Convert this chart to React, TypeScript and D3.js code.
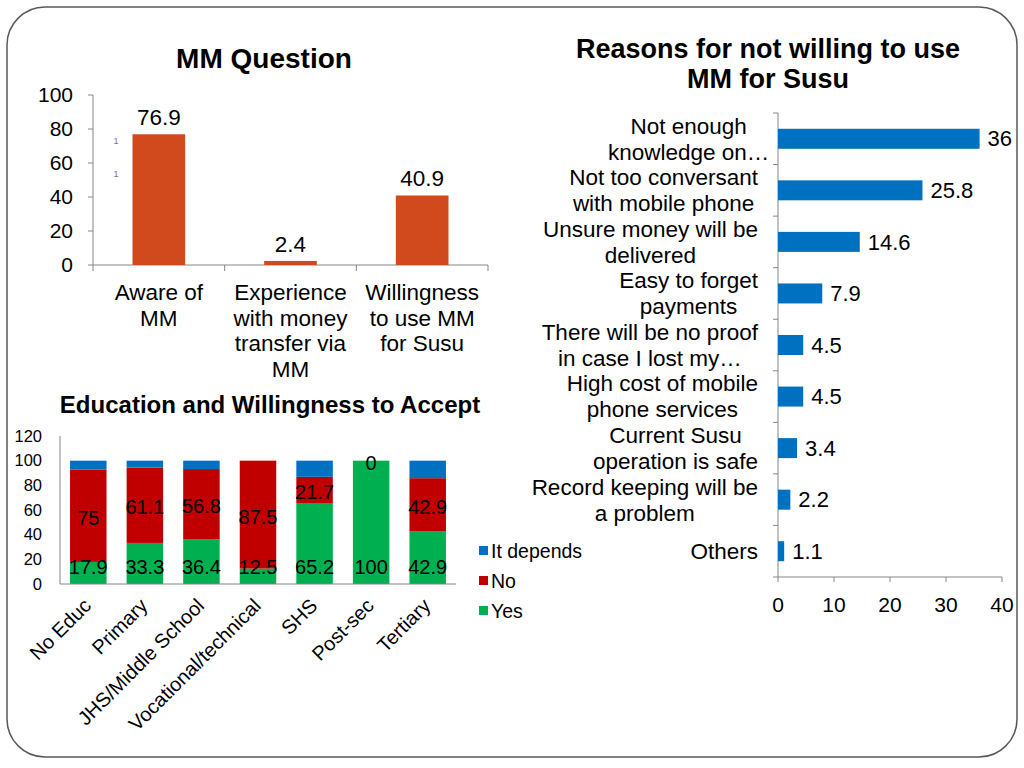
import React, { useEffect, useRef } from 'react';
import * as d3 from 'd3';

// MM Question
const mmCategories = [['Aware of', 'MM'], ['Experience', 'with money', 'transfer via', 'MM'], ['Willingness', 'to use MM', 'for Susu']];
const mmValues = [76.9, 2.4, 40.9];
const mmTicks = [0, 20, 40, 60, 80, 100];

// Education and Willingness to Accept
const eduCategories = ['No Educ', 'Primary', 'JHS/Middle School', 'Vocational/technical', 'SHS', 'Post-sec', 'Tertiary'];
const eduYes = [17.9, 33.3, 36.4, 12.5, 65.2, 100, 42.9];
const eduNo = [75, 61.1, 56.8, 87.5, 21.7, 0, 42.9];
const eduDepends = [7.1, 5.6, 6.8, 0, 13.1, 0, 14.2];
const eduTicks = [0, 20, 40, 60, 80, 100, 120];
const eduSeries = ['Yes', 'No', 'It depends'];

// Reasons for not willing to use MM for Susu
const reasonLabels = [
  ['Not enough', 'knowledge on…'],
  ['Not too conversant', 'with mobile phone'],
  ['Unsure money will be', 'delivered'],
  ['Easy to forget', 'payments'],
  ['There will be no proof', 'in case I lost my…'],
  ['High cost of mobile', 'phone services'],
  ['Current Susu', 'operation is safe'],
  ['Record keeping will be', 'a problem'],
  ['Others'],
];
const reasonValues = [36, 25.8, 14.6, 7.9, 4.5, 4.5, 3.4, 2.2, 1.1];
const reasonTicks = [0, 10, 20, 30, 40];

const FONT = '"Liberation Sans", Arial, sans-serif';
const AXIS = '#868686';

export default function App() {
  const ref = useRef<SVGSVGElement>(null);

  useEffect(() => {
    const svg = d3.select(ref.current);
    svg.selectAll('*').remove();
    svg.style('font-family', FONT);

    // slide frame
    svg.append('rect')
      .attr('x', 7).attr('y', 7).attr('width', 1010).attr('height', 750)
      .attr('rx', 38).attr('fill', '#fff').attr('stroke', '#595959').attr('stroke-width', 1.5);

    // ---------- MM Question ----------
    const g1 = svg.append('g');
    const x1 = d3.scaleBand<number>().domain(d3.range(mmValues.length)).range([93, 488]).paddingInner(0.6).paddingOuter(0.3);
    const y1 = d3.scaleLinear().domain([0, 100]).range([265, 95]);
    g1.append('text').attr('x', 264).attr('y', 68).attr('text-anchor', 'middle')
      .attr('font-size', 28).attr('font-weight', 'bold').text('MM Question');
    g1.append('line').attr('x1', 93).attr('x2', 93).attr('y1', y1(100)).attr('y2', y1(0)).attr('stroke', AXIS);
    mmTicks.forEach(t => {
      g1.append('line').attr('x1', 88).attr('x2', 93).attr('y1', y1(t)).attr('y2', y1(t)).attr('stroke', AXIS);
      g1.append('text').attr('x', 73).attr('y', y1(t)).attr('dy', '0.35em').attr('text-anchor', 'end')
        .attr('font-size', 21).text(t);
    });
    g1.append('line').attr('x1', 93).attr('x2', 488).attr('y1', y1(0)).attr('y2', y1(0)).attr('stroke', AXIS);
    d3.range(mmValues.length + 1).forEach(i => {
      const xx = 93 + i * x1.step() * (395 / (x1.step() * 3));
      g1.append('line').attr('x1', xx).attr('x2', xx).attr('y1', y1(0)).attr('y2', y1(0) + 6).attr('stroke', AXIS);
    });
    mmValues.forEach((v, i) => {
      const cx = x1(i)! + x1.bandwidth() / 2;
      g1.append('rect').attr('x', x1(i)!).attr('y', y1(v)).attr('width', x1.bandwidth())
        .attr('height', y1(0) - y1(v)).attr('fill', '#D04A1E');
      g1.append('text').attr('x', cx).attr('y', y1(v) - 9)
        .attr('text-anchor', 'middle').attr('font-size', 22.5).text(v);
      const t = g1.append('text').attr('text-anchor', 'middle').attr('font-size', 22.5);
      mmCategories[i].forEach((line, j) => {
        t.append('tspan').attr('x', cx).attr('y', 300 + j * 25.7).text(line);
      });
    });
    g1.append('text').attr('x', 116).attr('y', 144).attr('font-size', 9).attr('fill', '#777').attr('text-anchor', 'middle').text('1');
    g1.append('text').attr('x', 116).attr('y', 177).attr('font-size', 9).attr('fill', '#777').attr('text-anchor', 'middle').text('1');

    // ---------- Education and Willingness ----------
    const g2 = svg.append('g');
    const x2 = d3.scaleBand().domain(eduCategories).range([60, 456]).paddingInner(0.355).paddingOuter(0.1775);
    const y2 = d3.scaleLinear().domain([0, 120]).range([584, 436]);
    const color2 = d3.scaleOrdinal<string>().domain(eduSeries).range(['#00B050', '#C00000', '#0070C0']);
    g2.append('text').attr('x', 270).attr('y', 413).attr('text-anchor', 'middle')
      .attr('font-size', 24).attr('font-weight', 'bold').text('Education and Willingness to Accept');
    eduTicks.forEach(t => {
      g2.append('text').attr('x', 42).attr('y', y2(t)).attr('dy', '0.35em').attr('text-anchor', 'end')
        .attr('font-size', 16.5).text(t);
    });
    const rows = eduCategories.map((c, i) => ({ cat: c, Yes: eduYes[i], No: eduNo[i], 'It depends': eduDepends[i] }));
    const stacked = d3.stack<any>().keys(eduSeries)(rows);
    stacked.forEach(layer => {
      layer.forEach((d, i) => {
        g2.append('rect').attr('x', x2(eduCategories[i])!).attr('y', y2(d[1]))
          .attr('width', x2.bandwidth()).attr('height', y2(d[0]) - y2(d[1]))
          .attr('fill', color2(layer.key));
      });
    });
    eduCategories.forEach((c, i) => {
      const cx = x2(c)! + x2.bandwidth() / 2;
      g2.append('text').attr('x', cx).attr('y', y2(0) - 10).attr('text-anchor', 'middle')
        .attr('font-size', 20).text(eduYes[i]);
      const mid = (eduYes[i] + eduYes[i] + eduNo[i]) / 2;
      g2.append('text').attr('x', cx).attr('y', y2(mid) + 2).attr('dy', '0.35em').attr('text-anchor', 'middle')
        .attr('font-size', 20).text(eduNo[i]);
      g2.append('text').attr('transform', `translate(${cx - 6},${597}) rotate(-45)`)
        .attr('text-anchor', 'end').attr('dy', '0.71em').attr('font-size', 20).text(c);
    });
    g2.append('line').attr('x1', 60).attr('x2', 60).attr('y1', y2(120)).attr('y2', y2(0)).attr('stroke', AXIS);
    g2.append('line').attr('x1', 60).attr('x2', 456).attr('y1', y2(0)).attr('y2', y2(0)).attr('stroke', AXIS);
    [...eduSeries].reverse().forEach((s, i) => {
      const yy = 551 + i * 30;
      g2.append('rect').attr('x', 479).attr('y', yy - 5).attr('width', 9).attr('height', 9).attr('fill', color2(s));
      g2.append('text').attr('x', 491).attr('y', yy).attr('dy', '0.35em').attr('font-size', 19.5).text(s);
    });

    // ---------- Reasons ----------
    const g3 = svg.append('g');
    const x3 = d3.scaleLinear().domain([0, 40]).range([778, 1002]);
    const y3 = d3.scaleBand<number>().domain(d3.range(reasonValues.length)).range([113, 577]).paddingInner(0.612).paddingOuter(0.306);
    const title = g3.append('text').attr('text-anchor', 'middle').attr('font-size', 27).attr('font-weight', 'bold');
    title.append('tspan').attr('x', 768).attr('y', 58).text('Reasons for not willing to use');
    title.append('tspan').attr('x', 768).attr('y', 88).text('MM for Susu');
    g3.append('line').attr('x1', x3(0)).attr('x2', x3(0)).attr('y1', 113).attr('y2', 577).attr('stroke', AXIS);
    d3.range(reasonValues.length + 1).forEach(i => {
      const yy = 113 + i * y3.step();
      g3.append('line').attr('x1', x3(0) - 5).attr('x2', x3(0)).attr('y1', yy).attr('y2', yy).attr('stroke', AXIS);
    });
    g3.append('line').attr('x1', x3(0)).attr('x2', x3(40)).attr('y1', 577).attr('y2', 577).attr('stroke', AXIS);
    reasonTicks.forEach(t => {
      g3.append('line').attr('x1', x3(t)).attr('x2', x3(t)).attr('y1', 577).attr('y2', 582).attr('stroke', AXIS);
      g3.append('text').attr('x', x3(t)).attr('y', 612).attr('text-anchor', 'middle').attr('font-size', 21).text(t);
    });
    reasonValues.forEach((v, i) => {
      const by = y3(i)!;
      const cy = by + y3.bandwidth() / 2;
      g3.append('rect').attr('x', x3(0)).attr('y', by).attr('width', x3(v) - x3(0))
        .attr('height', y3.bandwidth()).attr('fill', '#0070C0');
      g3.append('text').attr('x', x3(v) + 8).attr('y', cy).attr('dy', '0.35em').attr('font-size', 22).text(v);
      const lines = reasonLabels[i];
      const t = g3.append('text').attr('text-anchor', 'middle').attr('font-size', 22.5);
      const spans = lines.map((line, j) =>
        t.append('tspan').attr('y', cy + (j - (lines.length - 1) / 2) * 26).attr('dy', '0.35em').text(line));
      // truncated labels overflow by their ellipsis, so measure without it
      let maxW = 0;
      spans.forEach((s, j) => {
        const node = s.node() as SVGTSpanElement;
        const line = lines[j];
        const w = line.endsWith('…') ? node.getSubStringLength(0, line.length - 1) : node.getComputedTextLength();
        maxW = Math.max(maxW, w);
      });
      spans.forEach(s => s.attr('x', 758 - maxW / 2));
    });
  }, []);

  return (
    <div style={{ position: 'absolute', left: 0, top: 0 }}>
      <svg ref={ref} width={1024} height={768} style={{ display: 'block' }} />
    </div>
  );
}
